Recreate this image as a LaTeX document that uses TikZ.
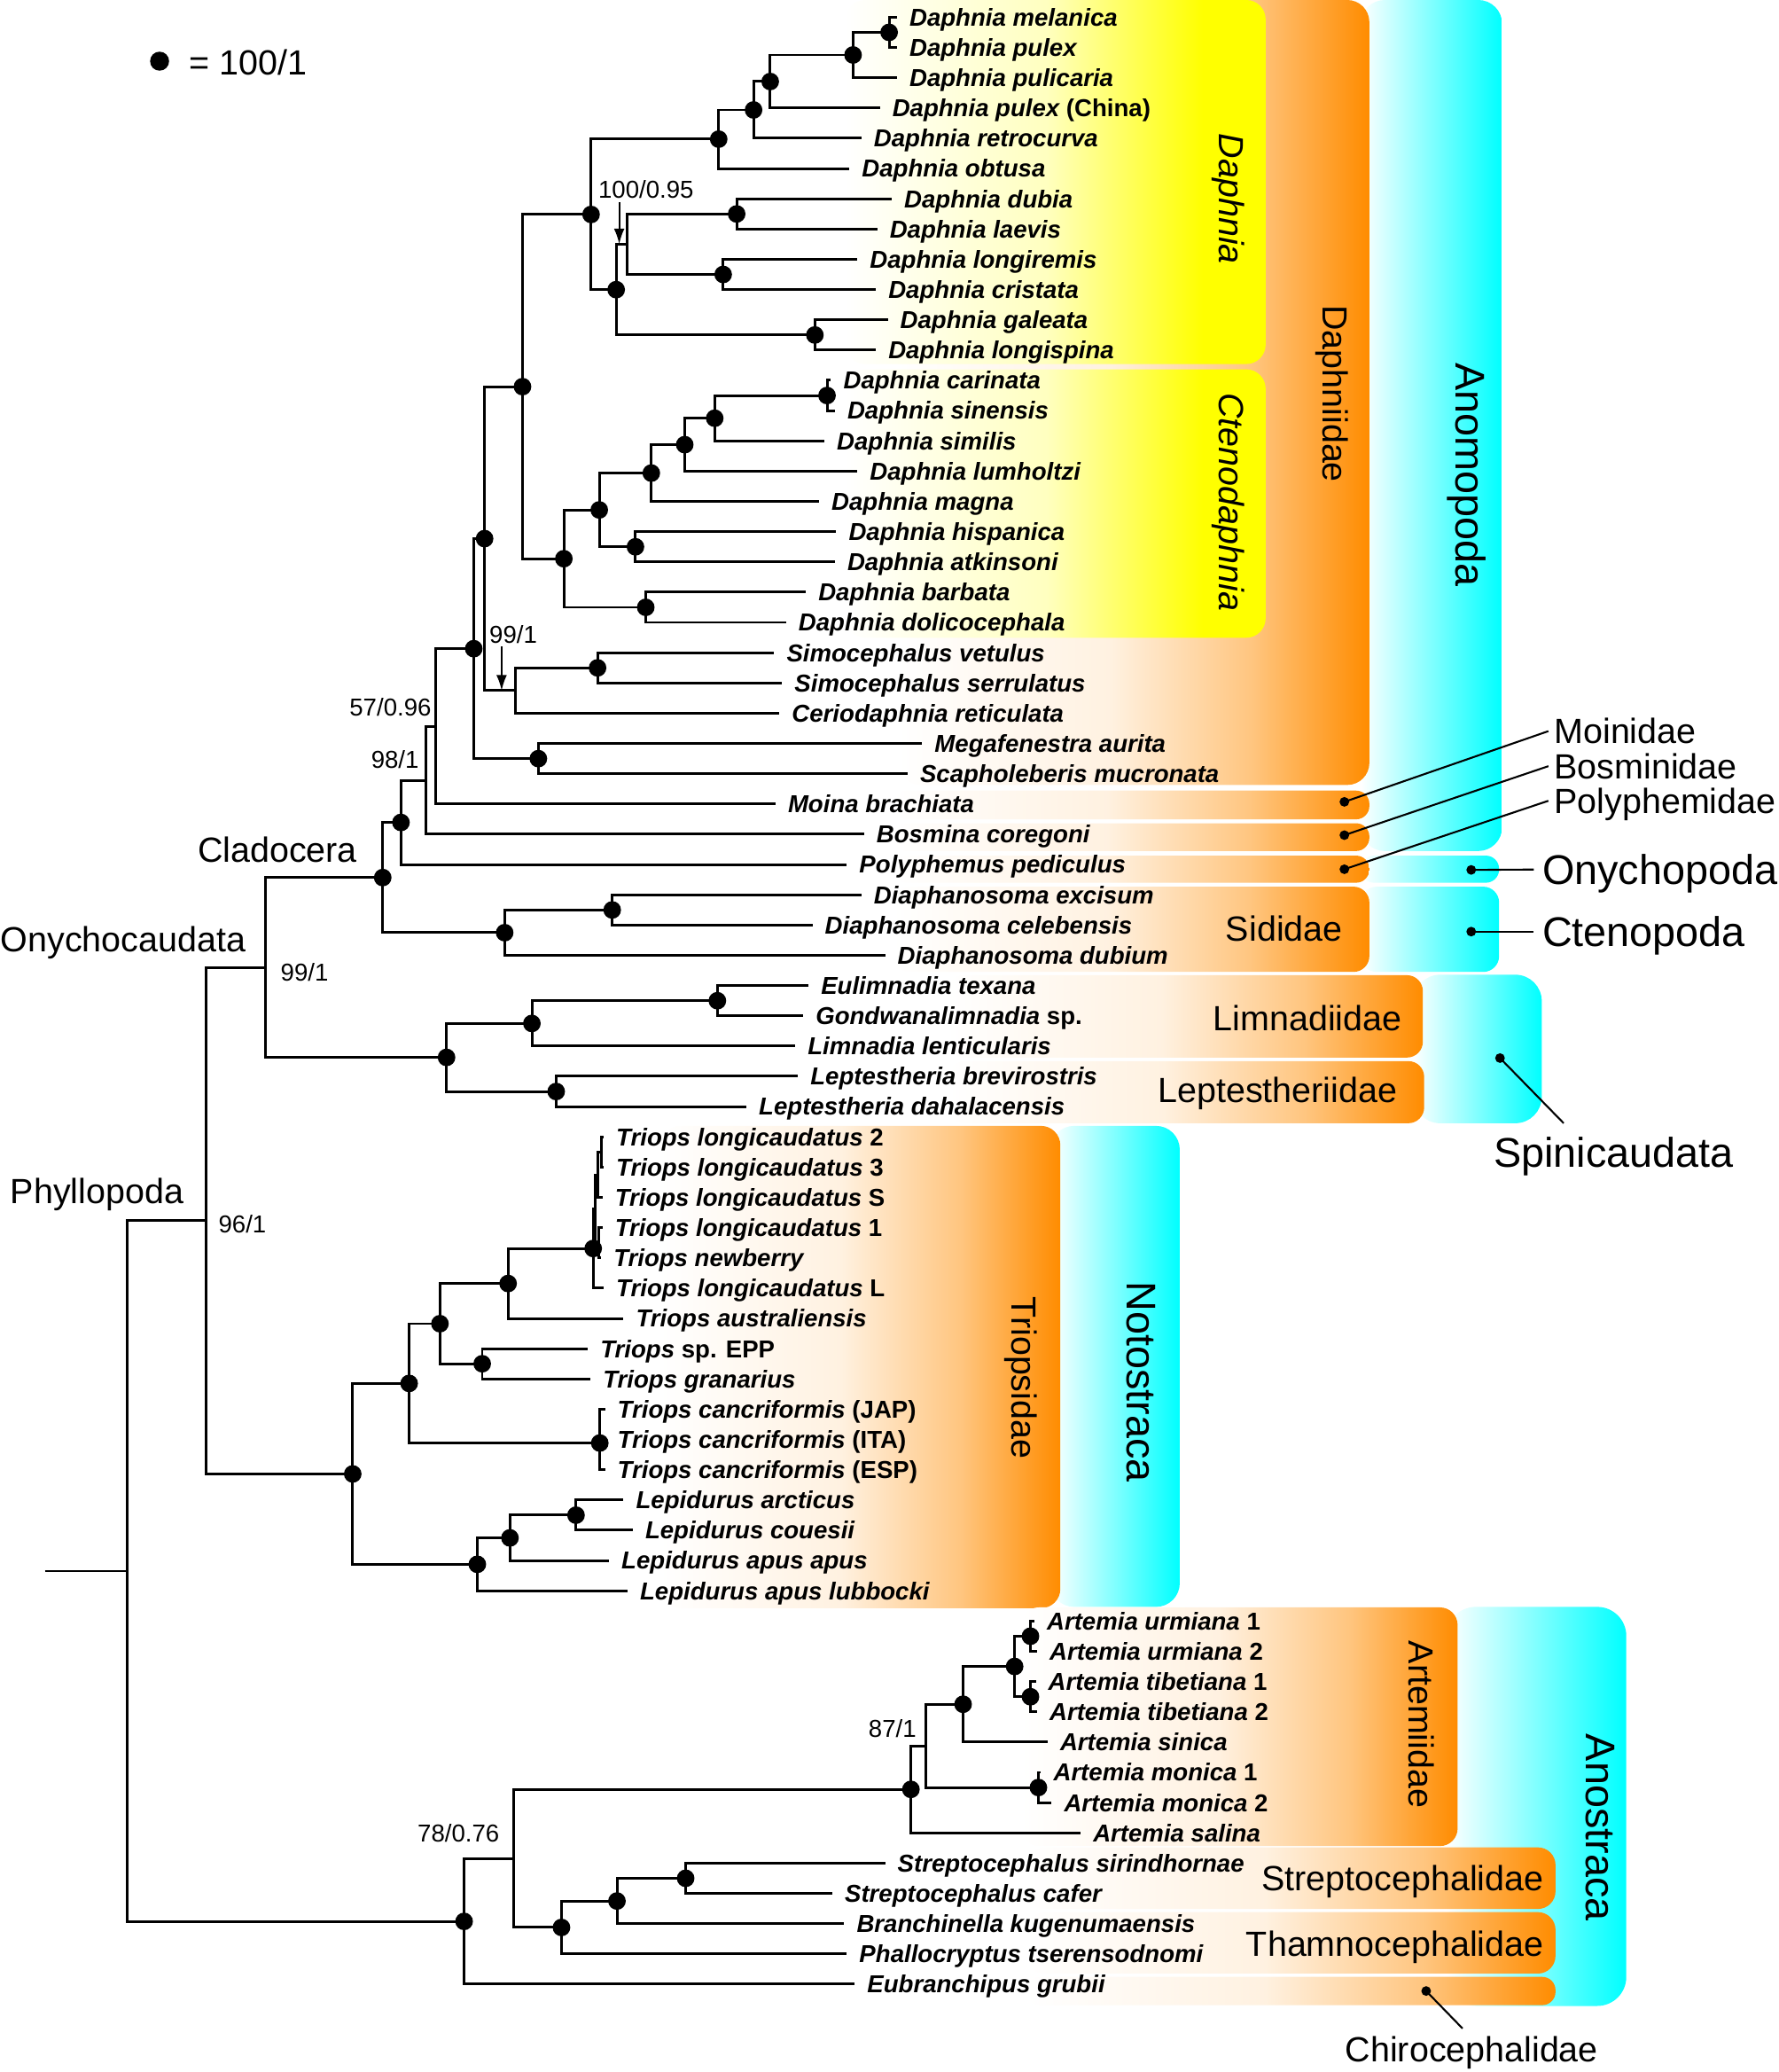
\documentclass[tikz,border=0pt]{standalone}
\usepackage{fontspec}
\setmainfont{Liberation Sans}
\usepackage{xcolor}
\usepackage{tikz}
\usetikzlibrary{arrows.meta}

\definecolor{dorange}{RGB}{255,140,0}
\definecolor{dyellow}{RGB}{255,255,0}
\definecolor{dcyan}{RGB}{0,255,255}
\colorlet{ofadeA}{dorange!12}
\colorlet{ofadeB}{dorange!50}
\colorlet{yfadeA}{dyellow!25}
\pgfdeclarehorizontalshading{orangefade}{100bp}{color(0bp)=(white); color(25bp)=(white); color(47.5bp)=(ofadeA); color(62.5bp)=(ofadeB); color(75bp)=(dorange); color(100bp)=(dorange)}
\pgfdeclarehorizontalshading{yellowfade}{100bp}{color(0bp)=(white); color(25bp)=(white); color(49bp)=(yfadeA); color(67.5bp)=(dyellow); color(100bp)=(dyellow)}

\newcommand{\taxfont}{\fontsize{7.9}{9}\selectfont\bfseries\itshape}
\newcommand{\supfont}{\fontsize{7.9}{9}\selectfont}
\newcommand{\famfont}{\fontsize{11.3}{13}\selectfont}
\newcommand{\grpfont}{\fontsize{13.4}{16}\selectfont}

\begin{document}
\begin{tikzpicture}[
    x=0.015cm, y=-0.015cm,
    taxon/.style={anchor=west, inner xsep=0.135cm, inner ysep=0pt, text height=5.66pt, text depth=0pt, font=\taxfont},
    support/.style={inner sep=0pt, text height=5.66pt, text depth=0pt, font=\supfont},
    famlabel/.style={inner sep=0pt, text height=8.1pt, text depth=0pt, font=\famfont},
    grplabel/.style={inner sep=0pt, text height=9.6pt, text depth=0pt, font=\grpfont},
    vfam/.style={inner sep=0pt, rotate=-90, font=\famfont},
    vgrp/.style={inner sep=0pt, rotate=-90, font=\grpfont},
    cyanbox/.style={left color=white, right color=dcyan},
    orangebox/.style={shading=orangefade},
    yellowbox/.style={shading=yellowfade},
    branch/.style={line width=0.85pt},
    pointer/.style={line width=0.6pt},
    supparrow/.style={-{Latex[length=5pt,width=3.4pt]}, line width=0.6pt}
]
    \useasboundingbox (0,0) rectangle (1346,1568);

    % group boxes
    \shade[cyanbox, rounded corners=0.27cm] (1030,0) rectangle (1137,644);
    \shade[cyanbox, rounded corners=0.15cm] (1030,647.5) rectangle (1134.7,668);
    \shade[cyanbox, rounded corners=0.18cm] (1030,671) rectangle (1134.7,735.5);
    \shade[cyanbox, rounded corners=0.3cm] (1070,737.6) rectangle (1167,850);
    \shade[cyanbox, rounded corners=0.27cm] (795,852) rectangle (893,1216);
    \shade[cyanbox, rounded corners=0.33cm] (1095,1216) rectangle (1231,1518);

    % family boxes
    \shade[orangebox, rounded corners=0.25cm] (680,0) rectangle (1036.5,594);
    \shade[orangebox, rounded corners=0.15cm] (676,598.3) rectangle (1036.5,620);
    \shade[orangebox, rounded corners=0.15cm] (676,623) rectangle (1036.5,644);
    \shade[orangebox, rounded corners=0.15cm] (676,647.5) rectangle (1036.5,668);
    \shade[orangebox, rounded corners=0.18cm] (676,671) rectangle (1036.5,735.5);
    \shade[orangebox, rounded corners=0.18cm] (717,738) rectangle (1077,800.3);
    \shade[orangebox, rounded corners=0.18cm] (718,803) rectangle (1078,850);
    \shade[orangebox, rounded corners=0.22cm] (500,852) rectangle (802.6,1217);
    \shade[orangebox, rounded corners=0.2cm] (773,1216.4) rectangle (1103.3,1397);
    \shade[orangebox, rounded corners=0.2cm] (777,1398) rectangle (1177.4,1444.6);
    \shade[orangebox, rounded corners=0.2cm] (777,1447) rectangle (1177.4,1493.5);
    \shade[orangebox, rounded corners=0.15cm] (777,1496) rectangle (1177.4,1517.4);

    % subgenus boxes
    \shade[yellowbox, rounded corners=0.22cm] (640,0) rectangle (958,275.5);
    \shade[yellowbox, rounded corners=0.22cm] (640,279.5) rectangle (958,482.6);

    % rotated group names
    \node[vfam, font=\famfont\itshape] (daphlbl) at (929.6,150.5) {Daphnia};
    \node[vfam, font=\famfont\itshape] (ctenlbl) at (929.5,380) {Ctenodaphnia};
    \node[vfam] (daphnlbl) at (1008,298) {Daphniidae};
    \node[vgrp] (anomlbl) at (1110,359.5) {Anomopoda};
    \node[vfam] (triolbl) at (773,1042.6) {Triopsidae};
    \node[vgrp] (notolbl) at (864,1045.6) {Notostraca};
    \node[vfam] (artelbl) at (1076,1305) {Artemiidae};
    \node[vgrp] (anoslbl) at (1211,1383) {Anostraca};

    % family and order names
    \node[famlabel, anchor=east] (sidlbl) at (1016.7,703) {Sididae};
    \node[famlabel, anchor=east] (limlbl) at (1061.6,770.5) {Limnadiidae};
    \node[famlabel, anchor=east] (leplbl) at (1058,825) {Leptestheriidae};
    \node[famlabel, anchor=east] (strlbl) at (1169,1421) {Streptocephalidae};
    \node[famlabel, anchor=east] (thalbl) at (1169,1471) {Thamnocephalidae};
    \node[famlabel] (chilbl) at (1114,1550.7) {Chirocephalidae};
    \node[famlabel, anchor=west, inner xsep=0.06cm] (moilbl) at (1172,553.3) {Moinidae};
    \node[famlabel, anchor=west, inner xsep=0.06cm] (boslbl) at (1172,579.8) {Bosminidae};
    \node[famlabel, anchor=west, inner xsep=0.06cm] (pollbl) at (1172,606) {Polyphemidae};
    \node[grplabel, anchor=west, inner xsep=0.09cm] (onylbl) at (1161,658) {Onychopoda};
    \node[grplabel, anchor=west, inner xsep=0.09cm] (ctelbl) at (1161,705) {Ctenopoda};
    \node[grplabel] (spilbl) at (1221.5,872) {Spinicaudata};
    \node[famlabel] (cladlbl) at (210,643) {Cladocera};
    \node[famlabel, anchor=west] (onyclbl) at (0,711) {Onychocaudata};
    \node[famlabel] (phyllbl) at (73.5,901) {Phyllopoda};

    % pointers from boxes to names
    \coordinate (moidot) at (1017.6,606.8);
    \coordinate (bosdot) at (1017.6,632);
    \coordinate (poldot) at (1017.6,657.8);
    \coordinate (onydot) at (1113.6,658.3);
    \coordinate (ctedot) at (1113.6,705);
    \coordinate (spidot) at (1135.4,800.7);
    \coordinate (spiend) at (1183.6,850);
    \coordinate (chidot) at (1079.5,1506.7);
    \coordinate (chiend) at (1107,1535);
    \draw[pointer] (moidot) -- (moilbl.west);
    \draw[pointer] (bosdot) -- (boslbl.west);
    \draw[pointer] (poldot) -- (pollbl.west);
    \draw[pointer] (onydot) -- (onylbl.west);
    \draw[pointer] (ctedot) -- (ctelbl.west);
    \draw[pointer] (spidot) -- (spiend);
    \draw[pointer] (chidot) -- (chiend);
    \foreach \d in {moidot,bosdot,poldot,onydot,ctedot,spidot,chidot}
        \fill (\d) circle[radius=0.055cm];

    % legend
    \coordinate (legdot) at (120.8,46.3);
    \fill (legdot) circle[radius=0.108cm];
    \node[famlabel, anchor=west] (leglbl) at (142.7,47) {= 100/1};

    % taxa
    \node[taxon] (t0) at (679,13) {Daphnia melanica};
    \node[taxon] (t1) at (679,35.9) {Daphnia pulex};
    \node[taxon] (t2) at (679,58.8) {Daphnia pulicaria};
    \node[taxon] (t3) at (666,81.7) {Daphnia pulex \upshape(China)};
    \node[taxon] (t4) at (652,104.6) {Daphnia retrocurva};
    \node[taxon] (t5) at (643,127.5) {Daphnia obtusa};
    \node[taxon] (t6) at (675,150.4) {Daphnia dubia};
    \node[taxon] (t7) at (664,173.3) {Daphnia laevis};
    \node[taxon] (t8) at (649,196.2) {Daphnia longiremis};
    \node[taxon] (t9) at (663,219.1) {Daphnia cristata};
    \node[taxon] (t10) at (672,242) {Daphnia galeata};
    \node[taxon] (t11) at (663,264.9) {Daphnia longispina};
    \node[taxon] (t12) at (629,287.8) {Daphnia carinata};
    \node[taxon] (t13) at (632,310.7) {Daphnia sinensis};
    \node[taxon] (t14) at (624,333.6) {Daphnia similis};
    \node[taxon] (t15) at (649,356.5) {Daphnia lumholtzi};
    \node[taxon] (t16) at (620,379.4) {Daphnia magna};
    \node[taxon] (t17) at (633,402.3) {Daphnia hispanica};
    \node[taxon] (t18) at (632,425.2) {Daphnia atkinsoni};
    \node[taxon] (t19) at (610,448.1) {Daphnia barbata};
    \node[taxon] (t20) at (595,471) {Daphnia dolicocephala};
    \node[taxon] (t21) at (586,493.9) {Simocephalus vetulus};
    \node[taxon] (t22) at (592,516.8) {Simocephalus serrulatus};
    \node[taxon] (t23) at (590,539.7) {Ceriodaphnia reticulata};
    \node[taxon] (t24) at (698,562.6) {Megafenestra aurita};
    \node[taxon] (t25) at (687,585.5) {Scapholeberis mucronata};
    \node[taxon] (t26) at (587,608.4) {Moina brachiata};
    \node[taxon] (t27) at (654,631.3) {Bosmina coregoni};
    \node[taxon] (t28) at (641,654.2) {Polyphemus pediculus};
    \node[taxon] (t29) at (652,677.1) {Diaphanosoma excisum};
    \node[taxon] (t30) at (615,700) {Diaphanosoma celebensis};
    \node[taxon] (t31) at (670,722.9) {Diaphanosoma dubium};
    \node[taxon] (t32) at (612,745.8) {Eulimnadia texana};
    \node[taxon] (t33) at (608,768.7) {Gondwanalimnadia \upshape sp.};
    \node[taxon] (t34) at (602,791.6) {Limnadia lenticularis};
    \node[taxon] (t35) at (604,814.5) {Leptestheria brevirostris};
    \node[taxon] (t36) at (565,837.4) {Leptestheria dahalacensis};
    \node[taxon] (t37) at (457,860.3) {Triops longicaudatus \upshape 2};
    \node[taxon] (t38) at (457,883.2) {Triops longicaudatus \upshape 3};
    \node[taxon] (t39) at (456,906.1) {Triops longicaudatus \upshape S};
    \node[taxon] (t40) at (456,929) {Triops longicaudatus \upshape 1};
    \node[taxon] (t41) at (455,951.9) {Triops newberry};
    \node[taxon] (t42) at (457,974.8) {Triops longicaudatus \upshape L};
    \node[taxon] (t43) at (472,997.7) {Triops australiensis};
    \node[taxon] (t44) at (445,1020.6) {Triops \upshape sp. EPP};
    \node[taxon] (t45) at (447,1043.5) {Triops granarius};
    \node[taxon] (t46) at (458,1066.4) {Triops cancriformis \upshape(JAP)};
    \node[taxon] (t47) at (458,1089.3) {Triops cancriformis \upshape(ITA)};
    \node[taxon] (t48) at (458,1112.2) {Triops cancriformis \upshape(ESP)};
    \node[taxon] (t49) at (472,1135.1) {Lepidurus arcticus};
    \node[taxon] (t50) at (479,1158) {Lepidurus couesii};
    \node[taxon] (t51) at (461,1180.9) {Lepidurus apus apus};
    \node[taxon] (t52) at (475,1203.8) {Lepidurus apus lubbocki};
    \node[taxon] (t53) at (783,1226.7) {Artemia urmiana \upshape 1};
    \node[taxon] (t54) at (785,1249.6) {Artemia urmiana \upshape 2};
    \node[taxon] (t55) at (784,1272.5) {Artemia tibetiana \upshape 1};
    \node[taxon] (t56) at (785,1295.4) {Artemia tibetiana \upshape 2};
    \node[taxon] (t57) at (793,1318.3) {Artemia sinica};
    \node[taxon] (t58) at (788,1341.2) {Artemia monica \upshape 1};
    \node[taxon] (t59) at (796,1364.1) {Artemia monica \upshape 2};
    \node[taxon] (t60) at (818,1387) {Artemia salina};
    \node[taxon] (t61) at (670,1409.9) {Streptocephalus sirindhornae};
    \node[taxon] (t62) at (630,1432.8) {Streptocephalus cafer};
    \node[taxon] (t63) at (639,1455.7) {Branchinella kugenumaensis};
    \node[taxon] (t64) at (641,1478.6) {Phallocryptus tserensodnomi};
    \node[taxon] (t65) at (647,1501.5) {Eubranchipus grubii};

    % internal nodes
    \coordinate (n1) at (673,24.5);
    \coordinate (n2) at (645.7,41.6);
    \coordinate (n3) at (583,61.7);
    \coordinate (n4) at (570.4,83.2);
    \coordinate (n5) at (544,105.3);
    \coordinate (n6) at (557.6,161.9);
    \coordinate (n7) at (547.4,207.7);
    \coordinate (n8) at (474.4,184.8);
    \coordinate (n9) at (616.8,253.5);
    \coordinate (n10) at (466.4,219.2);
    \coordinate (n11) at (447.4,162.3);
    \coordinate (c1) at (626,299.3);
    \coordinate (c2) at (541,316.5);
    \coordinate (c3) at (518.3,336.5);
    \coordinate (c4) at (493,358);
    \coordinate (c5) at (481,413.8);
    \coordinate (c6) at (453.6,385.9);
    \coordinate (c7) at (488.8,459.6);
    \coordinate (c8) at (426.8,422.8);
    \coordinate (d1) at (395.5,292.6);
    \coordinate (s1) at (452.3,505.4);
    \coordinate (s2) at (390,522.6);
    \coordinate (d2) at (366.8,407.6);
    \coordinate (m1) at (407.5,574.1);
    \coordinate (d3) at (358.6,490.9);
    \coordinate (d4) at (330,549.7);
    \coordinate (d5) at (322.4,590.5);
    \coordinate (d6) at (303.5,622.4);
    \coordinate (sd1) at (463.4,688.6);
    \coordinate (sd2) at (382,705.8);
    \coordinate (cl) at (289.7,664.1);
    \coordinate (l1) at (543,757.3);
    \coordinate (l2) at (402.6,774.5);
    \coordinate (l3) at (421,826);
    \coordinate (sp) at (338,800.2);
    \coordinate (oc) at (201,732.2);
    \coordinate (tr1) at (455,871.8);
    \coordinate (tr2) at (452.5,889);
    \coordinate (tr3) at (453,940.5);
    \coordinate (tr4) at (450.5,914.7);
    \coordinate (tr5) at (449,944.8);
    \coordinate (tr6) at (384.6,971.3);
    \coordinate (tr7) at (365,1032);
    \coordinate (tr8) at (333,1001.7);
    \coordinate (tr9) at (454,1092);
    \coordinate (tr10) at (309.7,1046.9);
    \coordinate (lp1) at (436,1146.6);
    \coordinate (lp2) at (386,1163.8);
    \coordinate (lp3) at (361.3,1183.8);
    \coordinate (noto) at (267,1115.4);
    \coordinate (ph) at (156,923.8);
    \coordinate (a1) at (780,1238.2);
    \coordinate (a2) at (780,1284);
    \coordinate (a3) at (768,1261.1);
    \coordinate (a4) at (729,1289.7);
    \coordinate (a5) at (786,1352.7);
    \coordinate (a6) at (700.5,1321.2);
    \coordinate (a7) at (689.5,1354.1);
    \coordinate (st1) at (519,1421.4);
    \coordinate (st2) at (467,1438.6);
    \coordinate (st3) at (425,1458.6);
    \coordinate (an1) at (388.9,1406.4);
    \coordinate (an) at (351.3,1454);
    \coordinate (root) at (96,1188.9);
    \coordinate (stem) at (34,1188.9);

    % branches
    \foreach \p/\c in {n1/t0.west, n1/t1.west, n2/n1, n2/t2.west, n3/n2, n3/t3.west,
        n4/n3, n4/t4.west, n5/n4, n5/t5.west, n6/t6.west, n6/t7.west,
        n7/t8.west, n7/t9.west, n8/n6, n8/n7, n9/t10.west, n9/t11.west,
        n10/n8, n10/n9, n11/n5, n11/n10,
        c1/t12.west, c1/t13.west, c2/c1, c2/t14.west, c3/c2, c3/t15.west,
        c4/c3, c4/t16.west, c5/t17.west, c5/t18.west, c6/c4, c6/c5,
        c7/t19.west, c7/t20.west, c8/c6, c8/c7, d1/n11, d1/c8,
        s1/t21.west, s1/t22.west, s2/s1, s2/t23.west, d2/d1, d2/s2,
        m1/t24.west, m1/t25.west, d3/d2, d3/m1, d4/d3, d4/t26.west,
        d5/d4, d5/t27.west, d6/d5, d6/t28.west,
        sd1/t29.west, sd1/t30.west, sd2/sd1, sd2/t31.west, cl/d6, cl/sd2,
        l1/t32.west, l1/t33.west, l2/l1, l2/t34.west, l3/t35.west, l3/t36.west,
        sp/l2, sp/l3, oc/cl, oc/sp,
        tr1/t37.west, tr1/t38.west, tr2/tr1, tr2/t39.west, tr3/t40.west, tr3/t41.west,
        tr4/tr2, tr4/tr3, tr5/tr4, tr5/t42.west, tr6/tr5, tr6/t43.west,
        tr7/t44.west, tr7/t45.west, tr8/tr6, tr8/tr7,
        tr9/t46.west, tr9/t47.west, tr9/t48.west, tr10/tr8, tr10/tr9,
        lp1/t49.west, lp1/t50.west, lp2/lp1, lp2/t51.west, lp3/lp2, lp3/t52.west,
        noto/tr10, noto/lp3, ph/oc, ph/noto,
        a1/t53.west, a1/t54.west, a2/t55.west, a2/t56.west, a3/a1, a3/a2,
        a4/a3, a4/t57.west, a5/t58.west, a5/t59.west, a6/a4, a6/a5,
        a7/a6, a7/t60.west, st1/t61.west, st1/t62.west, st2/st1, st2/t63.west,
        st3/st2, st3/t64.west, an1/a7, an1/st3, an/an1, an/t65.west,
        root/ph, root/an}
        \draw[branch] (\p) |- (\c);
    \draw[branch] (stem) -- (root);

    % nodes with 100/1 support
    \foreach \n in {n1,n2,n3,n4,n5,n6,n7,n9,n10,n11,c1,c2,c3,c4,c5,c6,c7,c8,d1,
        s1,d2,m1,d3,d6,sd1,sd2,cl,l1,l2,l3,sp,tr5,tr6,tr7,tr8,tr9,tr10,
        lp1,lp2,lp3,noto,a1,a2,a3,a4,a5,a7,st1,st2,st3,an}
        \fill (\n) circle[radius=0.1cm];

    % other support values
    \node[support] (sv1) at (489,143) {100/0.95};
    \node[support] (sv2) at (388.5,480) {99/1};
    \node[support] (sv3) at (295.5,535) {57/0.96};
    \node[support] (sv4) at (299,575) {98/1};
    \node[support] (sv5) at (230.5,736) {99/1};
    \node[support] (sv6) at (183.5,926) {96/1};
    \node[support] (sv7) at (675.5,1308) {87/1};
    \node[support] (sv8) at (347,1387) {78/0.76};
    \coordinate (ar1) at (468.7,153);
    \coordinate (ar2) at (379.7,489);
    \draw[supparrow] (ar1) -- (ar1 |- n8);
    \draw[supparrow] (ar2) -- (ar2 |- s2);
\end{tikzpicture}
\end{document}
